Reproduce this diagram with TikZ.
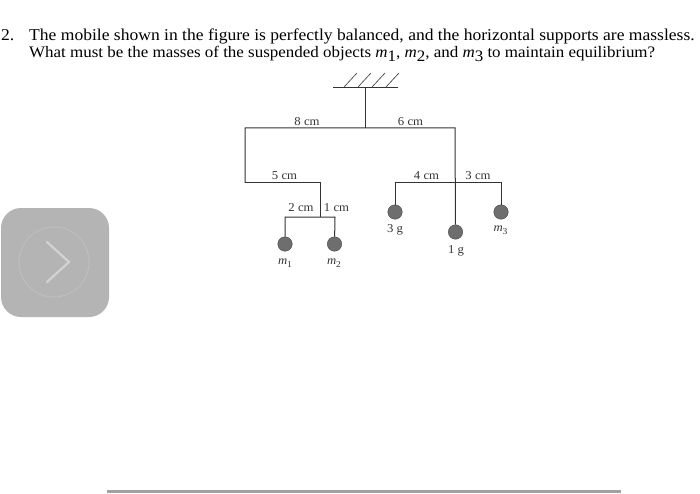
\documentclass[tikz,border=0pt]{standalone}
\usepackage{fontspec}
\usepackage{graphicx}
\setmainfont[FakeStretch=1.06]{Liberation Serif}
\definecolor{ink}{HTML}{333333}
\definecolor{ballgray}{HTML}{6E6E6E}
\definecolor{padgray}{HTML}{B4B4B4}
\definecolor{padline}{HTML}{BEBEBE}
\newcommand{\msub}[2][0.75]{\textit{m}\raisebox{-0.22em}{\scalebox{#1}{#2}}}
\tikzset{
	rod/.style={draw=ink,line width=1pt},
	ball/.style={circle,fill=ballgray,draw=ink,line width=0.3pt,minimum size=14.5pt,inner sep=0pt},
	lbl/.style={inner sep=0pt,text=ink,font=\fontsize{12}{14}\selectfont},
	txt/.style={inner sep=0pt,anchor=base west,text=black,font=\fontsize{16.55}{18}\selectfont}
}
\begin{document}
\begin{tikzpicture}[x=1pt,y=-1pt]
	\useasboundingbox (0,0) rectangle (700,494);
	%QUESTION TEXT
	\node[txt] (num) at (1,40.5) {2.};
	\node[txt] (lineone) at (29,40.5) {The mobile shown in the figure is perfectly balanced, and the horizontal supports are massless.};
	\node[txt,font=\fontsize{16}{18}\selectfont] (linetwo) at (29,57.5) {What must be the masses of the suspended objects \msub[1]{1}, \msub[1]{2}, and \msub[1]{3} to maintain equilibrium?};
	%CEILING
	\coordinate (ceilL) at (333,87);
	\coordinate (ceilR) at (398,87);
	\coordinate (top) at (365,87);
	\draw[rod,line width=0.7pt] (ceilL)--(ceilR);
	\foreach \x in {344,358,372,386}
		\draw[ink,line width=0.6pt] (\x,87)--(\x+13,73);
	%MAIN BAR
	\coordinate (hub) at (365,128);
	\coordinate (mainL) at (245,128);
	\coordinate (mainR) at (455,128);
	\coordinate (leftL) at (245,183);
	\coordinate (leftR) at (320,183);
	\coordinate (lowM) at (320,217);
	\coordinate (lowL) at (285,217);
	\coordinate (lowR) at (335,217);
	\coordinate (rightM) at (455,183);
	\coordinate (rightL) at (395,183);
	\coordinate (rightR) at (501,183);
	\node[ball] (mone) at (285,244) {};
	\node[ball] (mtwo) at (334.5,244) {};
	\node[ball] (three) at (395,212) {};
	\node[ball] (one) at (455.5,232) {};
	\node[ball] (mthree) at (501,212) {};
	\draw[rod] (top)--(hub);
	\draw[rod] (leftL)--(mainL)--(mainR)--(one);
	\draw[rod] (leftL)--(leftR)--(lowM);
	\draw[rod] (mone)--(lowL)--(lowR)--(mtwo);
	\draw[rod] (three)--(rightL)--(rightR)--(mthree);
	%LABELS
	\node[lbl] (eight) at (307,122) {8 cm};
	\node[lbl] (six) at (410.5,122) {6 cm};
	\node[lbl] (five) at (284.5,176) {5 cm};
	\node[lbl] (four) at (426.5,176) {4 cm};
	\node[lbl] (thr) at (478,176) {3 cm};
	\node[lbl] (twocm) at (301,208) {2 cm};
	\node[lbl] (onecm) at (336.5,208) {1 cm};
	\node[lbl] (threeg) at (395,230) {3 g};
	\node[lbl] (oneg) at (456,251) {1 g};
	\node[lbl] (lmone) at (285,263) {\msub{1}};
	\node[lbl] (lmtwo) at (334,263) {\msub{2}};
	\node[lbl] (lmthree) at (500.5,230) {\msub{3}};
	%BUTTON
	\fill[padgray,rounded corners=20pt] (1,208) rectangle (109,317);
	\draw[padline,line width=1pt] (54,262) circle (35);
	\draw[padline!70!white,line width=2.2pt,line cap=round] (47,242)--(69,262)--(47,282);
	%SCROLL BAR
	\fill[padgray!90!black] (107,490) rectangle (621,493);
\end{tikzpicture}
\end{document}
